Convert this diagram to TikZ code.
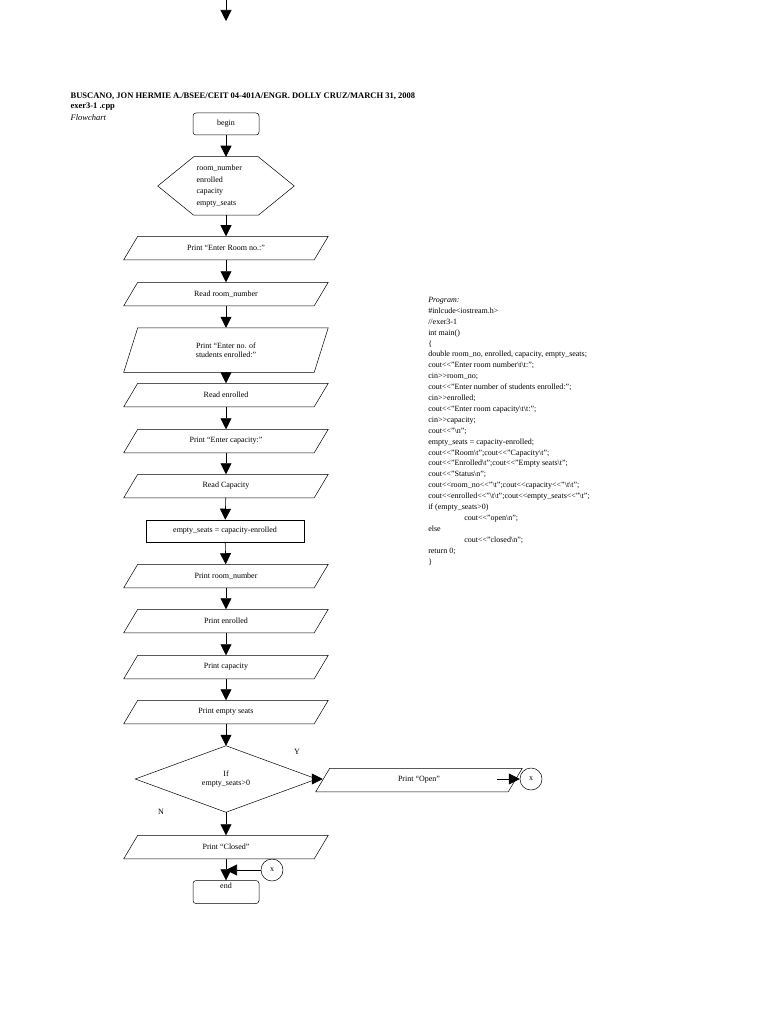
\documentclass[tikz,border=0pt]{standalone}
\usepackage{fontspec}
\setmainfont{Liberation Serif}
\usetikzlibrary{arrows.meta,shapes.geometric}
\newcommand\drawpara[1]{\draw ([xshift=7pt]#1.north west)--([xshift=7pt]#1.north east)--([xshift=-7pt]#1.south east)--([xshift=-7pt]#1.south west)--cycle;}
\newcommand\ltlt{<{}<}
\newcommand\gtgt{>{}>}
\begin{document}
\begin{tikzpicture}[x=1pt,y=-1pt,font=\fontsize{8}{9.5}\selectfont,
 box/.style={minimum width=190pt,minimum height=23pt,inner sep=1pt,align=center},
 term/.style={draw,rounded corners=3pt,minimum width=66pt,minimum height=22pt},
 arr/.style={-{Triangle[length=11pt,width=11pt]},line width=0.6pt},
 every path/.style={line width=0.5pt}]
\useasboundingbox (0,0) rectangle (768,1024);
\coordinate (t0) at (226,0);
\coordinate (t1) at (226,21);
\draw[arr] (t0)--(t1);
\node[anchor=west,font=\fontsize{8.5}{10}\selectfont\bfseries] (h1) at (67,96) {BUSCANO, JON HERMIE A./BSEE/CEIT 04-401A/ENGR. DOLLY CRUZ/MARCH 31, 2008};
\node[anchor=west,font=\fontsize{8.5}{10}\selectfont\bfseries] (h2) at (67,107) {exer3-1 .cpp};
\node[anchor=west,font=\fontsize{8.5}{10}\selectfont\itshape] (h3) at (67,118) {Flowchart};
\node[term] (begin) at (226,124) {begin};
\node[minimum width=136pt,minimum height=58pt] (hex) at (226,186) {};
\draw (hex.west)--([xshift=36pt]hex.north west)--([xshift=-36pt]hex.north east)--(hex.east)--([xshift=-36pt]hex.south east)--([xshift=36pt]hex.south west)--cycle;
\node[anchor=west,align=left,font=\fontsize{8}{11.5}\selectfont] (vars) at (193,186) {room\_number\\enrolled\\capacity\\empty\_seats};
\node[box] (p1) at (226,248) {Print “Enter Room no.:”}; \drawpara{p1}
\node[box] (p2) at (226,294) {Read room\_number}; \drawpara{p2}
\node[box,minimum height=44pt] (p3) at (226,350) {Print “Enter no. of\\students enrolled:”}; \drawpara{p3}
\node[box] (p4) at (226,395) {Read enrolled}; \drawpara{p4}
\node[box] (p5) at (226,441) {Print “Enter capacity:”}; \drawpara{p5}
\node[box] (p6) at (226,486) {Read Capacity}; \drawpara{p6}
\node[draw,minimum width=158pt,minimum height=22pt] (p7) at (225,531) {empty\_seats = capacity-enrolled};
\node[box] (p8) at (226,576) {Print room\_number}; \drawpara{p8}
\node[box] (p9) at (226,621) {Print enrolled}; \drawpara{p9}
\node[box] (p10) at (226,667) {Print capacity}; \drawpara{p10}
\node[box] (p11) at (226,712) {Print empty seats}; \drawpara{p11}
\node[minimum width=181pt,minimum height=66pt] (dec) at (226,779) {};
\draw (dec.west)--(dec.north)--(dec.east)--(dec.south)--cycle;
\node[align=center] (dect) at (226,779) {If\\empty\_seats>0};
\node[box,minimum width=192pt] (open) at (419,780) {Print “Open”}; \drawpara{open}
\node[draw,circle,minimum size=22pt,inner sep=0pt] (x1) at (531,779) {x};
\node[box] (closed) at (226,847) {Print “Closed”}; \drawpara{closed}
\node[draw,circle,minimum size=22pt,inner sep=0pt] (x2) at (272,870) {x};
\node[term,minimum height=23pt] (end) at (226,892) {};
\node (endt) at (226,886) {end};
\node (Y) at (297,752) {Y};
\node (N) at (161,812) {N};
\coordinate (oa) at (497,779);
\coordinate (ea) at (226,870);
\draw[arr] (begin)--(hex);
\draw[arr] (hex)--(p1);
\draw[arr] (p1)--(p2);
\draw[arr] (p2)--(p3);
\draw[arr] (p3)--(p4);
\draw[arr] (p4)--(p5);
\draw[arr] (p5)--(p6);
\draw[arr] (p6)--(p7);
\draw[arr] (p7)--(p8);
\draw[arr] (p8)--(p9);
\draw[arr] (p9)--(p10);
\draw[arr] (p10)--(p11);
\draw[arr] (p11)--(dec);
\draw[arr] (dec.east)--(dec.east-|open.west);
\draw[arr] (oa)--(x1);
\draw[arr] (dec)--(closed);
\draw[arr] (closed)--(end);
\draw[arr] (x2)--(ea);
\node[anchor=north west,align=left,font=\fontsize{8}{10.9}\selectfont,inner sep=0pt] (prog) at (428,297) {\textit{Program:}\\
\#inlcude<iostream.h>\\
//exer3-1\\
int main()\\
\{\\
double room\_no, enrolled, capacity, empty\_seats;\\
cout\ltlt”Enter room number\textbackslash t\textbackslash t:”;\\
cin\gtgt room\_no;\\
cout\ltlt”Enter number of students enrolled:”;\\
cin\gtgt enrolled;\\
cout\ltlt”Enter room capacity\textbackslash t\textbackslash t:”;\\
cin\gtgt capacity;\\
cout\ltlt”\textbackslash n”;\\
empty\_seats = capacity-enrolled;\\
cout\ltlt”Room\textbackslash t”;cout\ltlt”Capacity\textbackslash t”;\\
cout\ltlt”Enrolled\textbackslash t”;cout\ltlt”Empty seats\textbackslash t”;\\
cout\ltlt”Status\textbackslash n”;\\
cout\ltlt room\_no\ltlt”\textbackslash t”;cout\ltlt capacity\ltlt”\textbackslash t\textbackslash t”;\\
cout\ltlt enrolled\ltlt”\textbackslash t\textbackslash t”;cout\ltlt empty\_seats\ltlt”\textbackslash t”;\\
if (empty\_seats>0)\\
\hspace*{36pt}cout\ltlt”open\textbackslash n”;\\
else\\
\hspace*{36pt}cout\ltlt”closed\textbackslash n”;\\
return 0;\\
\}};
\end{tikzpicture}
\end{document}
